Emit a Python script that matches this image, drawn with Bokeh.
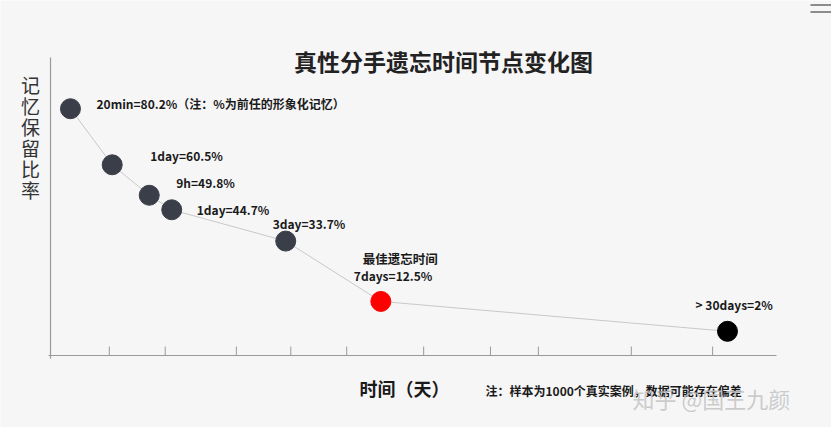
from bokeh.plotting import figure
from bokeh.models import Range1d, Label, ColumnDataSource
from bokeh.embed import file_html
from bokeh.resources import INLINE
from bokeh.core.properties import value

# ---------------- data ----------------
time_labels = ["20min", "1day", "9h", "1day", "3day", "7days", "> 30days"]
retention = [80.2, 60.5, 49.8, 44.7, 33.7, 12.5, 2]
# position along the (hand-drawn, non-linear) time axis, 0-100 of axis length
time_position = [2.75, 8.5, 13.6, 16.7, 32.4, 45.5, 93.25]
point_text = ["20min=80.2%（注：%为前任的形象化记忆）", "1day=60.5%", "9h=49.8%",
              "1day=44.7%", "3day=33.7%", "7days=12.5%", "> 30days=2%"]
tick_positions = [8.1, 15.8, 25.6, 33.1, 40.8, 51.4, 60.6, 67.2, 80.0, 91.2]
title_text = "真性分手遗忘时间节点变化图"
y_label = "记忆保留比率"
x_label = "时间（天）"
highlight_text = "最佳遗忘时间"
note_text = "注：样本为1000个真实案例，数据可能存在偏差"
watermark = "知乎 @国王九颜"

# ---------------- style / layout ----------------
FONT = value("Noto Sans CJK SC")
BG = "#f6f6f7"
AXIS = "#9a9a9a"
point_colors = ["#3a3e48"] * 5 + ["#ff0000", "#000000"]
label_dx = [26, 38, 27, 25, -13, -27, -32]
label_dy = [-5, -9, -13, 0, -18, -26, -27]

W, H = 831, 427
# axis area: x 0..100 spans px 50..776, y -6.5..98.2 spans px 355..57
AX_X0, AX_X1 = 0, 100
AX_Y0, AX_Y1 = -6.5, 98.2
PX_L, PX_R, PX_T, PX_B = 50, 776, 57, 355
kx = (AX_X1 - AX_X0) / (PX_R - PX_L)
ky = (AX_Y1 - AX_Y0) / (PX_B - PX_T)
X0, X1 = AX_X0 - PX_L * kx, AX_X1 + (W - PX_R) * kx
Y0, Y1 = AX_Y0 - (H - PX_B) * ky, AX_Y1 + PX_T * ky


def sx(px):
    return X0 + px * kx


def sy(py):
    return Y1 - py * ky


p = figure(width=W, height=H, output_backend="svg", toolbar_location=None,
           x_range=Range1d(X0, X1), y_range=Range1d(Y0, Y1),
           min_border=0, min_border_left=0, min_border_right=0,
           min_border_top=0, min_border_bottom=0,
           background_fill_color=BG, border_fill_color=BG, outline_line_color=None)
p.grid.visible = False
p.axis.visible = False

# hand-drawn style axes
p.segment(x0=[sx(48), AX_X0], y0=[AX_Y0, sy(358)], x1=[AX_X1, AX_X0], y1=[AX_Y0, AX_Y1],
          line_color=AXIS, line_width=1.2)
p.segment(x0=tick_positions, y0=[AX_Y0] * len(tick_positions),
          x1=tick_positions, y1=[AX_Y0 + 9 * ky] * len(tick_positions),
          line_color=AXIS, line_width=1)

# small menu icon in the top-right corner
p.segment(x0=[sx(810), sx(810)], y0=[sy(4.5), sy(11.5)], x1=[sx(831), sx(831)],
          y1=[sy(4.5), sy(11.5)], line_color="#8c8c8c", line_width=2)

src = ColumnDataSource(dict(x=time_position, y=retention, label=point_text,
                            color=point_colors, dx=label_dx, dy=label_dy))

p.line("x", "y", source=src, line_color="#c8c8c8", line_width=1)
p.scatter("x", "y", source=src, size=20, fill_color="color", line_color="color")
p.text("x", "y", text="label", source=src, x_offset="dx", y_offset="dy",
       text_font=FONT, text_font_style="bold", text_font_size="12px",
       text_color="#1a1a1a", text_baseline="middle", text_align="left")

# highlight note above the 7-day point
p.add_layout(Label(x=time_position[5], y=retention[5], x_offset=-18, y_offset=43,
                   text=highlight_text, text_font="Noto Sans CJK SC", text_font_style="bold",
                   text_font_size="12.5px", text_color="#1a1a1a", text_baseline="middle"))

# title
p.add_layout(Label(x=sx(443), y=sy(60), text=title_text, text_font="Noto Sans CJK SC",
                   text_font_style="bold", text_font_size="23px", text_color="#222222",
                   text_align="center", text_baseline="middle"))

# vertical y label
for i, ch in enumerate(y_label):
    p.add_layout(Label(x=sx(30), y=sy(84 + i * 21), text=ch, text_font="Noto Sans CJK SC",
                       text_font_size="19px", text_color="#333333",
                       text_align="center", text_baseline="middle"))

# x label
p.add_layout(Label(x=sx(404), y=sy(387), text=x_label, text_font="Noto Sans CJK SC",
                   text_font_style="bold", text_font_size="18px", text_color="#1a1a1a",
                   text_align="center", text_baseline="middle"))

# note
p.add_layout(Label(x=sx(485), y=sy(390), text=note_text, text_font="Noto Sans CJK SC",
                   text_font_style="bold", text_font_size="12px", text_color="#1a1a1a",
                   text_align="left", text_baseline="middle"))

# watermark
p.add_layout(Label(x=sx(632), y=sy(397), text=watermark, text_font="Noto Sans CJK SC",
                   text_font_size="22px", text_color="#c4c4c4", text_alpha=0.85,
                   text_align="left", text_baseline="middle"))

html = file_html(p, INLINE)
html = html.replace("<body>", '<body style="background:%s">' % BG, 1)
open("out.html", "w").write(html)
